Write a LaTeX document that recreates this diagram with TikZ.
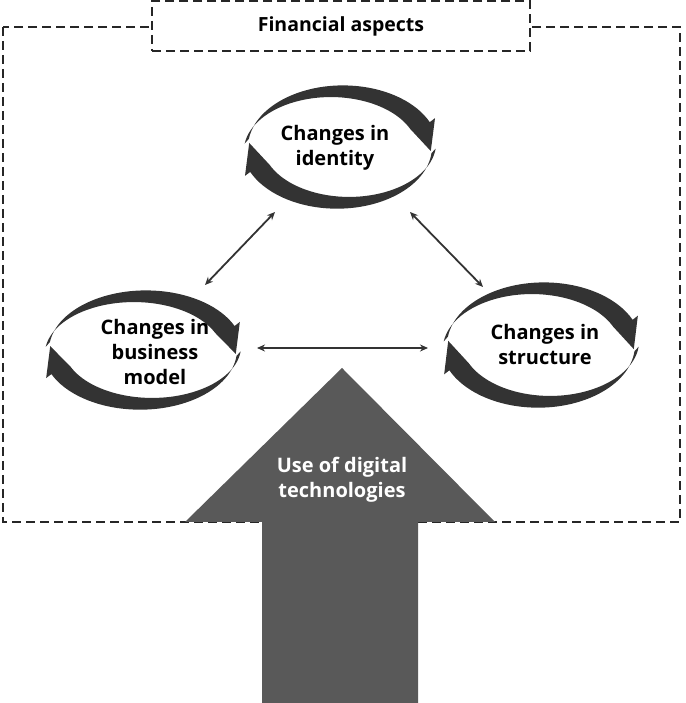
\documentclass[tikz,border=0pt]{standalone}
\usepackage{fontspec}
\setmainfont{Open Sans}
\usetikzlibrary{calc,arrows.meta}
\newcommand{\cyc}[4]{% center x,y (image), rx, ry
 \begin{scope}[shift={(#1,703-#2)}]
  \fill[arcfill] (172:#3-3 and #4-3) arc[start angle=172,end angle=24,x radius=#3,y radius=#4]
    -- (24:#3+9 and #4+9) -- (-4:{#3-4} and {#4-4}) -- (24:#3-18 and #4-18)
    arc[start angle=24,end angle=172,x radius=#3-8,y radius=#4-8] -- cycle;
  \fill[arcfill] (-6:#3-3 and #4-3) arc[start angle=-6,end angle=-156,x radius=#3,y radius=#4]
    -- (-156:#3+9 and #4+9) -- (-184:{#3-4} and {#4-4}) -- (-156:#3-18 and #4-18)
    arc[start angle=-156,end angle=-6,x radius=#3-8,y radius=#4-8] -- cycle;
 \end{scope}}
\begin{document}
\begin{tikzpicture}[x=1pt,y=1pt,
  arcfill/.style={fill=black!80},
  lbl/.style={font=\bfseries\fontsize{20}{25}\selectfont,align=center},
  dbl/.style={{Stealth[length=8pt,width=7pt]}-{Stealth[length=8pt,width=7pt]},line width=1.8pt,draw=black!80}]
\useasboundingbox (0,0) rectangle (685,703);
\draw[line width=1.4pt,dash pattern=on 9pt off 5pt,draw=black!85] (3,703-27) rectangle (680,703-522);
\node[draw=black!85,line width=1.4pt,dash pattern=on 9pt off 5pt,fill=white,minimum width=378pt,minimum height=50pt,font=\bfseries\fontsize{19.5}{24}\selectfont] (fa) at (341,703-26) {Financial aspects};
\cyc{340}{147}{95}{62}
\cyc{143}{350}{97}{60}
\cyc{541}{345}{97}{63}
\node[lbl] (id) at (335,703-148) {Changes in\\identity};
\node[lbl] (bm) at (155,703-352) {Changes in\\business\\model};
\node[lbl] (st) at (545,703-345) {Changes in\\structure};
\coordinate (a1) at (275,703-212); \coordinate (a2) at (205,703-285);
\coordinate (b1) at (410,703-212); \coordinate (b2) at (483,703-287);
\coordinate (c1) at (257,703-348); \coordinate (c2) at (428,703-348);
\draw[dbl] (a1) -- (a2);
\draw[dbl] (b1) -- (b2);
\draw[dbl] (c1) -- (c2);
\fill[fill=black!65] (342,703-368) -- (495,703-522) -- (418,703-522) -- (418,0) -- (262,0) -- (262,703-522) -- (185,703-522) -- cycle;
\node[lbl,text=white] (dt) at (342,703-480) {Use of digital\\technologies};
\end{tikzpicture}
\end{document}
